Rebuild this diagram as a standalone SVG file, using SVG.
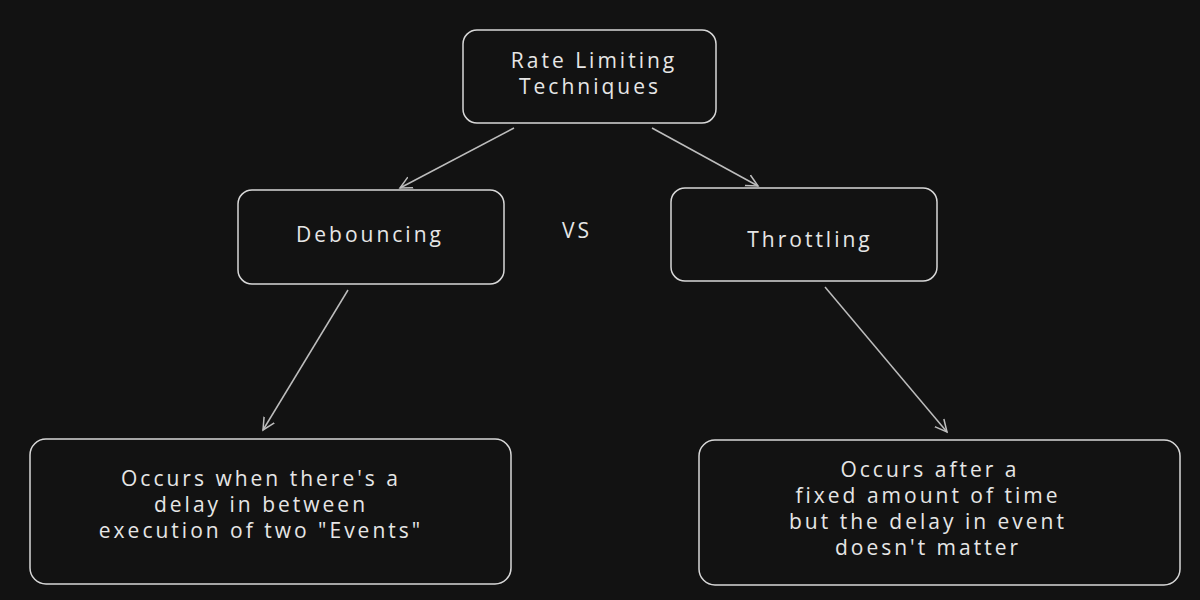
<svg xmlns="http://www.w3.org/2000/svg" width="1200" height="600" viewBox="0 0 1200 600">
<style>
.box{fill:none;stroke:#d8d8d8;stroke-width:1.5}
.t{fill:#e6e6e6;font-family:"Open Sans","DejaVu Sans",sans-serif;font-size:21px;text-anchor:middle;letter-spacing:3px}
.c{stroke:#bdbdbd;stroke-width:1.5;fill:none}
</style>
<defs><marker id="a" markerWidth="14" markerHeight="14" refX="12" refY="7" orient="auto" markerUnits="userSpaceOnUse"><path d="M0,1 L12,7 L0,13" fill="none" stroke="#bdbdbd" stroke-width="1.5"/></marker></defs>
<rect width="1200" height="600" fill="#121212"/>
<g id="connectors">
<line class="c" x1="514" y1="128" x2="400" y2="188" marker-end="url(#a)"/>
<line class="c" x1="652" y1="128" x2="758" y2="186" marker-end="url(#a)"/>
<line class="c" x1="348" y1="290" x2="263" y2="430" marker-end="url(#a)"/>
<line class="c" x1="825" y1="287" x2="947" y2="432" marker-end="url(#a)"/>
</g>
<g id="root"><rect class="box" x="463" y="30" width="253" height="93" rx="14"/>
<text class="t" x="594" y="68">Rate Limiting</text><text class="t" x="590" y="94">Techniques</text></g>
<g id="debouncing"><rect class="box" x="238" y="190" width="266" height="94" rx="14"/>
<text class="t" x="370" y="242">Debouncing</text></g>
<g id="vs"><text class="t" x="577" y="238">VS</text></g>
<g id="throttling"><rect class="box" x="671" y="188" width="266" height="93" rx="14"/>
<text class="t" x="810" y="247">Throttling</text></g>
<g id="deb-desc"><rect class="box" x="30" y="439" width="481" height="145" rx="16"/>
<text class="t" x="261" y="486">Occurs when there's a</text>
<text class="t" x="261" y="512">delay in between</text>
<text class="t" x="261" y="538">execution of two "Events"</text></g>
<g id="thr-desc"><rect class="box" x="699" y="440" width="481" height="145" rx="16"/>
<text class="t" x="930" y="477">Occurs after a</text>
<text class="t" x="928" y="503">fixed amount of time</text>
<text class="t" x="928" y="529">but the delay in event</text>
<text class="t" x="928" y="555">doesn't matter</text></g>
</svg>
